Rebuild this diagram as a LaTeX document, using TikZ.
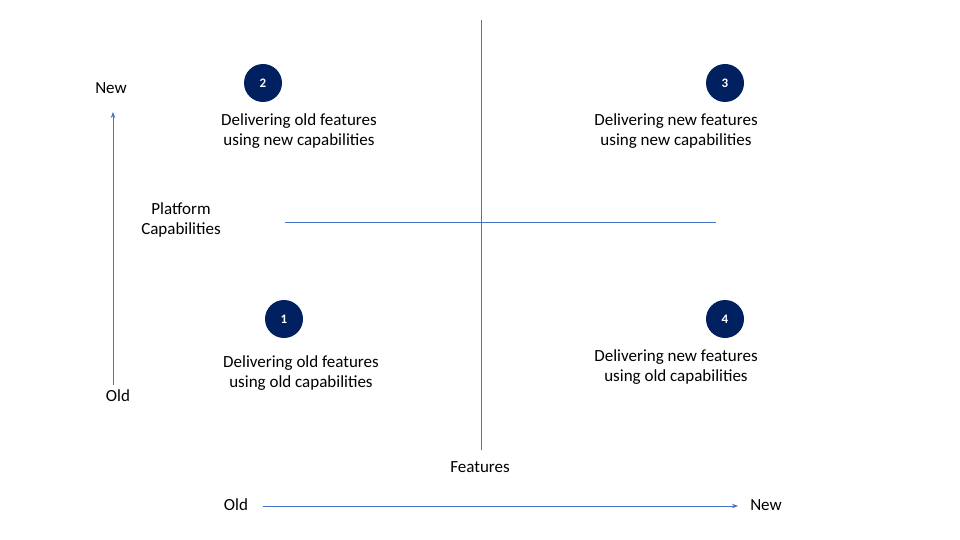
\documentclass[tikz,border=0pt]{standalone}
\usepackage{fontspec}
\setmainfont{Carlito}
\usetikzlibrary{positioning,arrows.meta}
\definecolor{axisblue}{RGB}{68,114,196}
\definecolor{navy}{RGB}{0,32,96}
\tikzset{
  axis/.style={draw=axisblue,line width=0.8pt},
  badge/.style={circle,fill=navy,minimum size=38pt,inner sep=0pt,text=white,font=\fontsize{13}{15}\selectfont\bfseries},
  lbl/.style={font=\fontsize{17}{20}\selectfont,align=center,text=black}
}
\begin{document}
\begin{tikzpicture}[x=1pt,y=-1pt]
\useasboundingbox (0,0) rectangle (960,540);
% quadrant lines
\coordinate (vtop) at (481,20);
\coordinate (vbot) at (481,450);
\coordinate (hleft) at (285,222);
\coordinate (hright) at (716,222);
\draw[axis] (vtop) -- (vbot);
\draw[axis] (hleft) -- (hright);
% axes
\coordinate (ylo) at (113,385);
\coordinate (yhi) at (113,112);
\coordinate (xlo) at (263,506);
\coordinate (xhi) at (738,506);
\draw[axis,-{Stealth[length=6pt]}] (ylo) -- (yhi);
\draw[axis,-{Stealth[length=6pt]}] (xlo) -- (xhi);
\node[lbl] (ynew) at (111,88) {New};
\node[lbl] (yold) at (118,396) {Old};
\node[lbl] (ytitle) at (181,220) {Platform\\Capabilities};
\node[lbl] (xtitle) at (480,467) {Features};
\node[lbl] (xold) at (236,505) {Old};
\node[lbl] (xnew) at (766,505) {New};
% quadrants
\node[badge] (q2) at (263,83) {2};
\node[badge] (q3) at (725,83) {3};
\node[badge] (q1) at (284,319) {1};
\node[badge] (q4) at (725,319) {4};
\node[lbl] (t2) at (299,131) {Delivering old features\\using new capabilities};
\node[lbl] (t3) at (676,131) {Delivering new features\\using new capabilities};
\node[lbl] (t1) at (301,373) {Delivering old features\\using old capabilities};
\node[lbl] (t4) at (676,367) {Delivering new features\\using old capabilities};
\end{tikzpicture}
\end{document}
